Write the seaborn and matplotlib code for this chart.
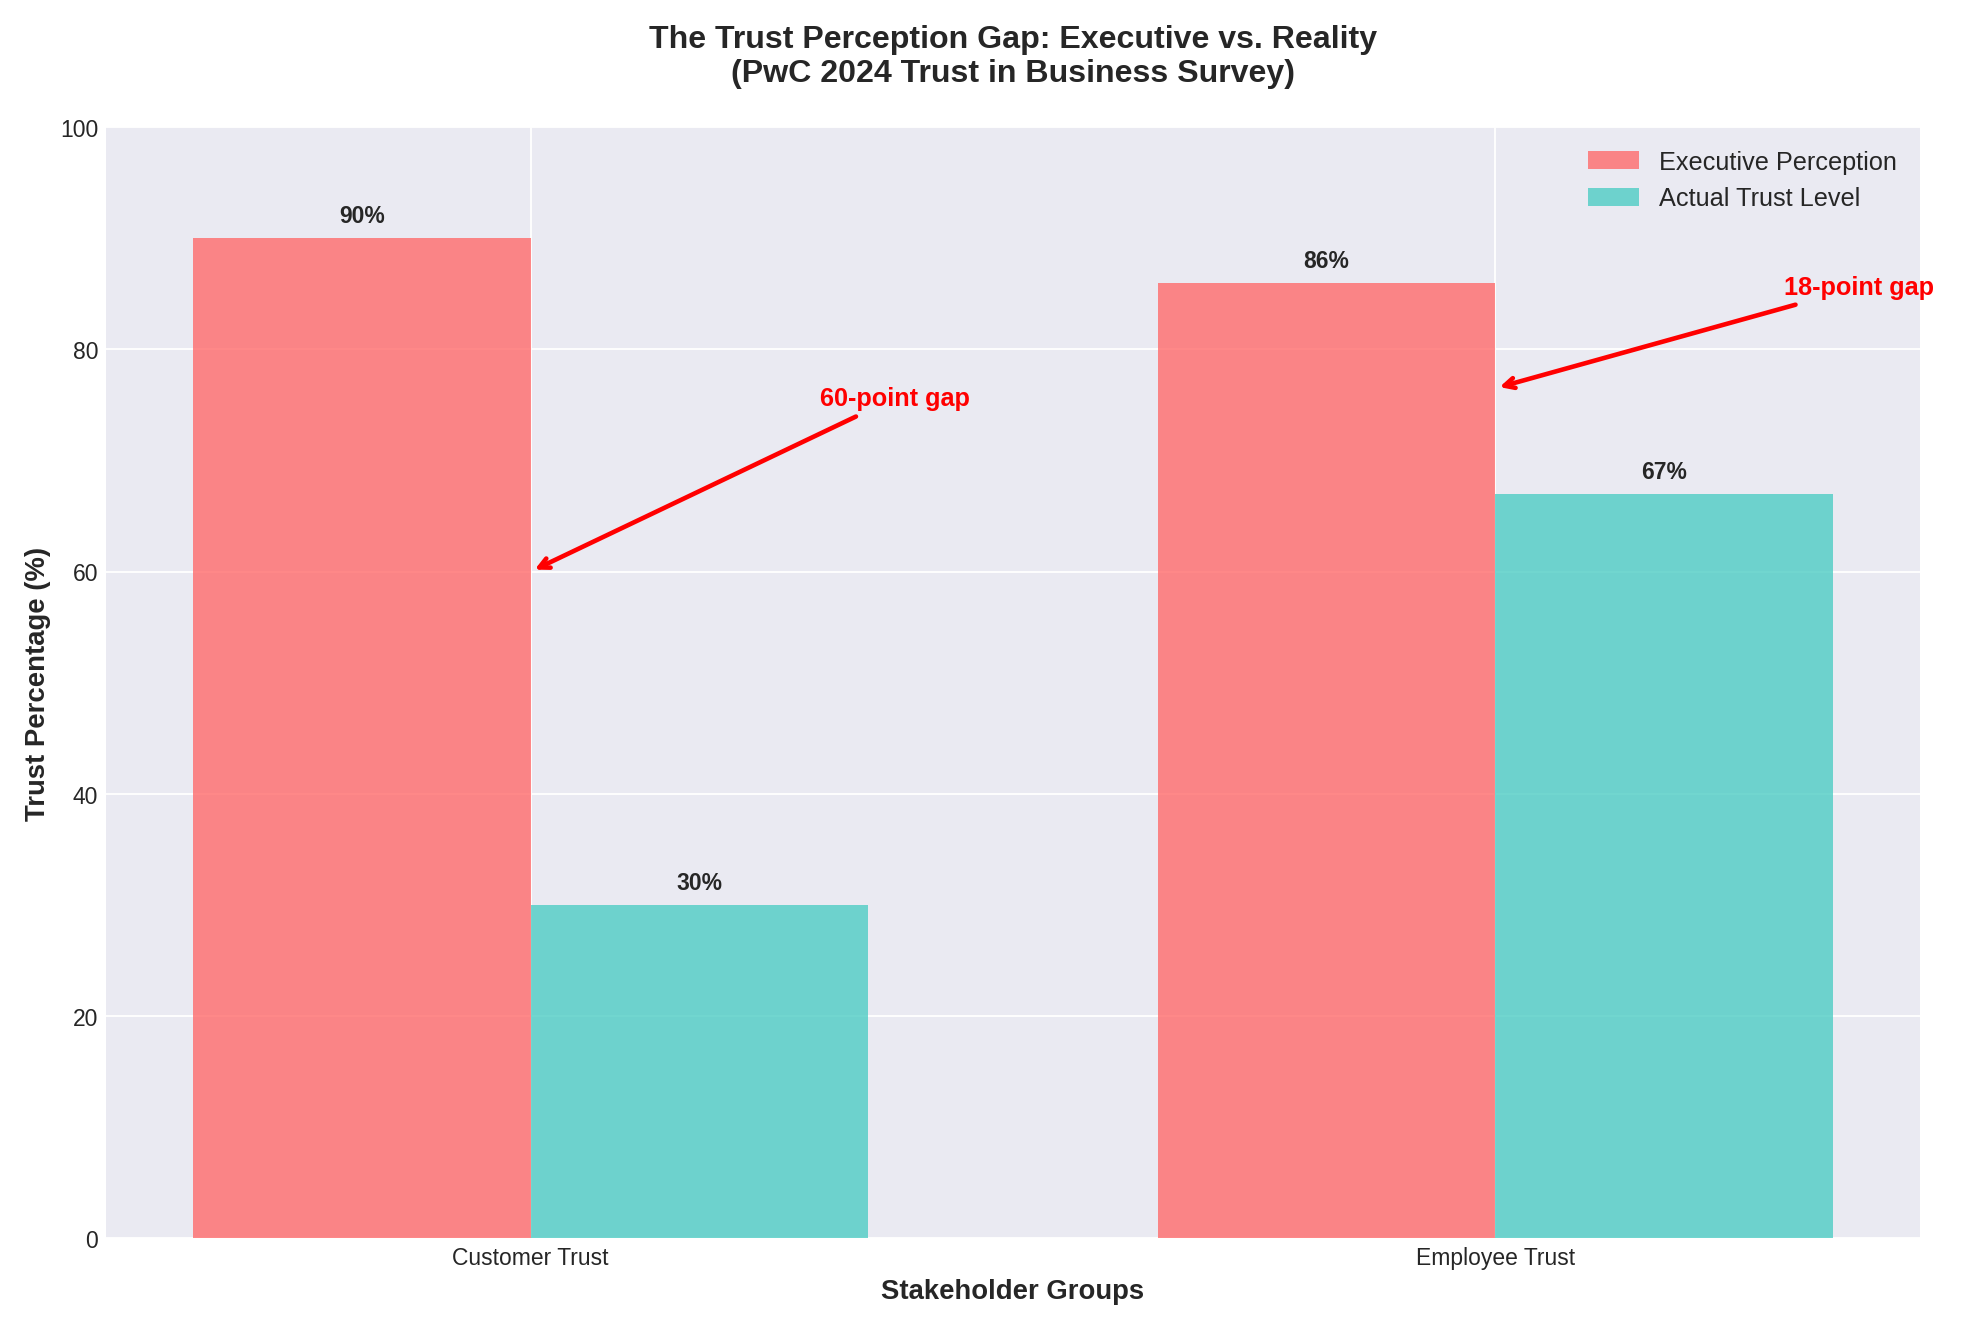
import matplotlib
matplotlib.use('agg')
import matplotlib.pyplot as plt
import seaborn as sns
import pandas as pd

plt.style.use('seaborn-v0_8-darkgrid')
plt.rcParams['font.family'] = ['Liberation Sans', 'DejaVu Sans']

groups = ['Customer Trust', 'Employee Trust']
executive = [90, 86]
actual = [30, 67]
series = ['Executive Perception', 'Actual Trust Level']
gap_labels = ['60-point gap', '18-point gap']

df = pd.DataFrame({
    'group': groups * 2,
    'value': executive + actual,
    'series': [series[0]] * 2 + [series[1]] * 2,
})

fig, ax = plt.subplots(figsize=(12, 8.06), dpi=165)
sns.barplot(data=df, x='group', y='value', hue='series', order=groups,
            hue_order=series, palette=['#FF6B6B', '#4ECDC4'], alpha=0.8,
            width=0.7, saturation=1, ax=ax)

for p in ax.patches:
    h = p.get_height()
    if h > 0:
        ax.text(p.get_x() + p.get_width() / 2, h + 1, f'{h:.0f}%',
                ha='center', va='bottom', fontweight='bold', fontsize=10)

ax.annotate(gap_labels[0], xy=(0, 60), xytext=(0.3, 75),
            arrowprops=dict(arrowstyle='->', color='red', lw=2),
            fontsize=11, fontweight='bold', color='red')
ax.annotate(gap_labels[1], xy=(1, 76.5), xytext=(1.3, 85),
            arrowprops=dict(arrowstyle='->', color='red', lw=2),
            fontsize=11, fontweight='bold', color='red')

ax.set_ylim(0, 100)
ax.set_xlim(-0.44, 1.44)
ax.grid(True, axis='both')
ax.set_axisbelow(True)
ax.set_xlabel('Stakeholder Groups', fontsize=12, fontweight='bold')
ax.set_ylabel('Trust Percentage (%)', fontsize=12, fontweight='bold')
ax.set_title('The Trust Perception Gap: Executive vs. Reality\n(PwC 2024 Trust in Business Survey)',
             fontsize=14, fontweight='bold', pad=20)
ax.tick_params(labelsize=10)
ax.legend(title=None, fontsize=11, loc='upper right')
plt.tight_layout()
plt.savefig('out.png')
